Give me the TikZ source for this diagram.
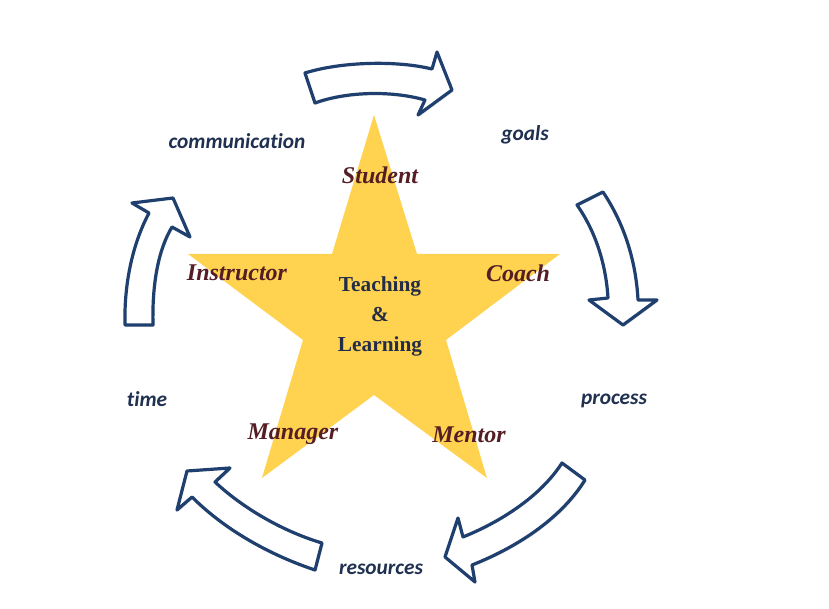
\documentclass[tikz,border=0pt]{standalone}
\usepackage{fontspec}
\setmainfont{Liberation Serif}
\newfontfamily\calib[Ligatures=NoCommon]{Carlito}
\usetikzlibrary{shadows}
\definecolor{stargold}{RGB}{255,210,80}
\definecolor{arrowblue}{RGB}{31,63,110}
\definecolor{navytext}{RGB}{31,48,80}
\definecolor{centertext}{RGB}{35,45,70}
\definecolor{maroon}{RGB}{84,30,36}
\tikzset{
  cyclearrow/.style={draw=arrowblue, line width=2.4pt, fill=white, line join=round,
    drop shadow={opacity=0.18, shadow xshift=1.2pt, shadow yshift=-1.2pt}},
  outerlabel/.style={font=\calib\bfseries\itshape\fontsize{16}{19}\selectfont, text=navytext, inner sep=0pt},
  rolelabel/.style={font=\bfseries\itshape\fontsize{18}{21}\selectfont, text=maroon, inner sep=0pt},
  centerlabel/.style={font=\bfseries\fontsize{16}{22.5}\selectfont, text=centertext, align=center, inner sep=0pt}
}
\begin{document}
\begin{tikzpicture}[x=0.75pt,y=-0.75pt]
\path[use as bounding box, fill=white] (0,0) rectangle (829,609);
% star
\fill[stargold] (374,115) -- (417,254) -- (560,254) -- (446,340) -- (487,478)
  -- (374,395) -- (262,478) -- (303,340) -- (188,254) -- (332,254) -- cycle;
% arrows
\path[cyclearrow] (305,73) .. controls (340,62) and (395,60) .. (432,69) -- (437,52) -- (452,90)
  -- (418,115) -- (425,100) .. controls (390,90) and (345,92) .. (315,103) -- cycle;
\path[cyclearrow] (577,205) -- (603,192) .. controls (625,225) and (636,262) .. (638,300)
  -- (657,300) -- (623,325) -- (589,300) -- (608,298) .. controls (606,265) and (596,232) .. (577,205) -- cycle;
\path[cyclearrow] (562,463) -- (585,480) .. controls (560,520) and (515,548) .. (472,565)
  -- (475,582) -- (445,557) -- (458,518) -- (463,537) .. controls (500,522) and (540,497) .. (562,463) -- cycle;
\path[cyclearrow] (322,543) -- (315,570) .. controls (270,555) and (225,530) .. (192,497)
  -- (177,510) -- (187,471) -- (230,468) -- (215,482) .. controls (245,510) and (285,532) .. (322,543) -- cycle;
\path[cyclearrow] (125,325) -- (153,325) .. controls (152,285) and (158,250) .. (172,227)
  -- (190,237) -- (173,198) -- (132,203) -- (149,213) .. controls (132,245) and (124,285) .. (125,325) -- cycle;
% outer labels
\node[outerlabel] (comm) at (237,141) {communication};
\node[outerlabel] (goals) at (525,135) {goals};
\node[outerlabel] (proc) at (614,401) {process};
\node[outerlabel] (res) at (381,569) {resources};
\node[outerlabel] (time) at (147,399) {time};
% role labels
\node[rolelabel] (student) at (380,175) {Student};
\node[rolelabel] (instr) at (237,273) {Instructor};
\node[rolelabel] (coach) at (518,273) {Coach};
\node[rolelabel] (manager) at (293,434) {Manager};
\node[rolelabel] (mentor) at (469,435) {Mentor};
% center
\node[centerlabel] (tl) at (380,316) {Teaching\\\&\\Learning};
\end{tikzpicture}
\end{document}
